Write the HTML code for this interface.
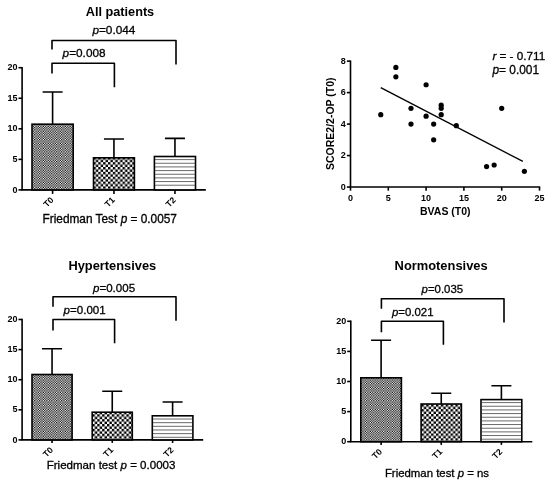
<!DOCTYPE html>
<html><head><meta charset="utf-8"><title>Figure</title>
<style>
html,body{margin:0;padding:0;background:#fff}
svg{display:block}
text{font-family:"Liberation Sans",Arial,sans-serif;fill:#000;stroke:#000;stroke-width:0.3px}
.tk,.tt,.lb{stroke-width:0}
.tk{font-size:9px;font-weight:bold}
.pt{font-size:11.8px}
.tt{font-size:12.5px;font-weight:bold}
.lb{font-size:10.5px;font-weight:bold}
</style></head><body>
<svg width="550" height="483" viewBox="0 0 550 483">
<defs>
<pattern id="pfine" width="2.44" height="2.44" patternUnits="userSpaceOnUse"><rect width="2.44" height="2.44" fill="#fff"/><rect width="1.22" height="1.22" fill="#000"/><rect x="1.22" y="1.22" width="1.22" height="1.22" fill="#000"/></pattern>
<pattern id="pchk1" x="93.4" y="157.3" width="4.86" height="4.86" patternUnits="userSpaceOnUse"><rect width="4.86" height="4.86" fill="#fff"/><rect width="2.43" height="2.43" fill="#000"/><rect x="2.43" y="2.43" width="2.43" height="2.43" fill="#000"/></pattern>
<pattern id="pchk3" x="92.4" y="414.3" width="4.86" height="4.86" patternUnits="userSpaceOnUse"><rect width="4.86" height="4.86" fill="#fff"/><rect width="2.43" height="2.43" fill="#000"/><rect x="2.43" y="2.43" width="2.43" height="2.43" fill="#000"/></pattern>
<pattern id="pchk4" x="421.4" y="404.3" width="4.86" height="4.86" patternUnits="userSpaceOnUse"><rect width="4.86" height="4.86" fill="#fff"/><rect width="2.43" height="2.43" fill="#000"/><rect x="2.43" y="2.43" width="2.43" height="2.43" fill="#000"/></pattern>
</defs>
<rect width="550" height="483" fill="#fff"/>
<path d="M22.1 67.00V189.90H205.8" fill="none" stroke="#000" stroke-width="1.6"/>
<path d="M18.50 189.90H22.1" stroke="#000" stroke-width="1.6"/>
<text x="17.50" y="192.50" text-anchor="end" class="tk">0</text>
<path d="M18.50 159.35H22.1" stroke="#000" stroke-width="1.6"/>
<text x="17.50" y="161.95" text-anchor="end" class="tk">5</text>
<path d="M18.50 128.80H22.1" stroke="#000" stroke-width="1.6"/>
<text x="17.50" y="131.40" text-anchor="end" class="tk">10</text>
<path d="M18.50 98.25H22.1" stroke="#000" stroke-width="1.6"/>
<text x="17.50" y="100.85" text-anchor="end" class="tk">15</text>
<path d="M18.50 67.70H22.1" stroke="#000" stroke-width="1.6"/>
<text x="17.50" y="70.30" text-anchor="end" class="tk">20</text>
<path d="M52.60 124.20V92.00M42.60 92.00H62.60" stroke="#000" stroke-width="1.6" fill="none"/>
<rect x="32.00" y="124.20" width="41.20" height="65.70" fill="url(#pfine)" stroke="#000" stroke-width="1.6"/>
<path d="M52.60 189.90V193.90" stroke="#000" stroke-width="1.6"/>
<text transform="translate(50.30 196.70) rotate(-45)" text-anchor="end" class="tk" style="font-size:8.7px" dy="5.5">T0</text>
<path d="M113.95 157.80V139.00M103.95 139.00H123.95" stroke="#000" stroke-width="1.6" fill="none"/>
<rect x="93.50" y="157.80" width="40.90" height="32.10" fill="url(#pchk1)" stroke="#000" stroke-width="1.6"/>
<path d="M113.95 189.90V193.90" stroke="#000" stroke-width="1.6"/>
<text transform="translate(111.65 196.70) rotate(-45)" text-anchor="end" class="tk" style="font-size:8.7px" dy="5.5">T1</text>
<path d="M174.95 156.50V138.40M164.95 138.40H184.95" stroke="#000" stroke-width="1.6" fill="none"/>
<rect x="154.40" y="156.50" width="41.10" height="33.40" fill="#fff" stroke="#000" stroke-width="1.6"/>
<path d="M155.00 159.60H194.90M155.00 163.26H194.90M155.00 166.92H194.90M155.00 170.58H194.90M155.00 174.24H194.90M155.00 177.90H194.90M155.00 181.56H194.90M155.00 185.22H194.90" stroke="#3a3a3a" stroke-width="0.75" fill="none"/>
<path d="M174.95 189.90V193.90" stroke="#000" stroke-width="1.6"/>
<text transform="translate(172.65 196.70) rotate(-45)" text-anchor="end" class="tk" style="font-size:8.7px" dy="5.5">T2</text>
<path d="M52 48.6V40.5H176V63.6" fill="none" stroke="#000" stroke-width="1.6" stroke-linecap="square" stroke-linejoin="round"/>
<path d="M52 72.6V63.3H114.4V86.4" fill="none" stroke="#000" stroke-width="1.6" stroke-linecap="square" stroke-linejoin="round"/>
<text x="92.4" y="34" class="pt" style="font-size:11.8px"><tspan font-style="italic">p</tspan>=0.044</text>
<text x="62.6" y="56.6" class="pt" style="font-size:11.8px"><tspan font-style="italic">p</tspan>=0.008</text>
<text x="85.8" y="15.6" class="tt" style="font-size:12.7px">All patients</text>
<text x="42.5" y="222.7" font-size="11.85">Friedman Test <tspan font-style="italic">p</tspan> = 0.0057</text>
<path d="M22.1 318.80V439.90H203.2" fill="none" stroke="#000" stroke-width="1.6"/>
<path d="M18.50 439.90H22.1" stroke="#000" stroke-width="1.6"/>
<text x="17.50" y="442.50" text-anchor="end" class="tk">0</text>
<path d="M18.50 409.80H22.1" stroke="#000" stroke-width="1.6"/>
<text x="17.50" y="412.40" text-anchor="end" class="tk">5</text>
<path d="M18.50 379.70H22.1" stroke="#000" stroke-width="1.6"/>
<text x="17.50" y="382.30" text-anchor="end" class="tk">10</text>
<path d="M18.50 349.60H22.1" stroke="#000" stroke-width="1.6"/>
<text x="17.50" y="352.20" text-anchor="end" class="tk">15</text>
<path d="M18.50 319.50H22.1" stroke="#000" stroke-width="1.6"/>
<text x="17.50" y="322.10" text-anchor="end" class="tk">20</text>
<path d="M52.05 374.50V348.80M42.05 348.80H62.05" stroke="#000" stroke-width="1.6" fill="none"/>
<rect x="32.00" y="374.50" width="40.10" height="65.40" fill="url(#pfine)" stroke="#000" stroke-width="1.6"/>
<path d="M52.05 439.90V442.90" stroke="#000" stroke-width="1.6"/>
<text transform="translate(49.75 446.70) rotate(-45)" text-anchor="end" class="tk" style="font-size:8.7px" dy="5.5">T0</text>
<path d="M112.25 412.20V391.20M102.25 391.20H122.25" stroke="#000" stroke-width="1.6" fill="none"/>
<rect x="92.20" y="412.20" width="40.10" height="27.70" fill="url(#pchk3)" stroke="#000" stroke-width="1.6"/>
<path d="M112.25 439.90V442.90" stroke="#000" stroke-width="1.6"/>
<text transform="translate(109.95 446.70) rotate(-45)" text-anchor="end" class="tk" style="font-size:8.7px" dy="5.5">T1</text>
<path d="M172.60 415.80V402.00M162.60 402.00H182.60" stroke="#000" stroke-width="1.6" fill="none"/>
<rect x="152.30" y="415.80" width="40.60" height="24.10" fill="#fff" stroke="#000" stroke-width="1.6"/>
<path d="M152.90 419.00H192.30M152.90 422.66H192.30M152.90 426.32H192.30M152.90 429.98H192.30M152.90 433.64H192.30M152.90 437.30H192.30" stroke="#3a3a3a" stroke-width="0.75" fill="none"/>
<path d="M172.60 439.90V442.90" stroke="#000" stroke-width="1.6"/>
<text transform="translate(170.30 446.70) rotate(-45)" text-anchor="end" class="tk" style="font-size:8.7px" dy="5.5">T2</text>
<path d="M53 306V296.8H176V320" fill="none" stroke="#000" stroke-width="1.6" stroke-linecap="square" stroke-linejoin="round"/>
<path d="M53 329.6V319.5H114.6V342.4" fill="none" stroke="#000" stroke-width="1.6" stroke-linecap="square" stroke-linejoin="round"/>
<text x="93" y="291.6" class="pt" style="font-size:11.55px"><tspan font-style="italic">p</tspan>=0.005</text>
<text x="63.6" y="313.6" class="pt" style="font-size:11.55px"><tspan font-style="italic">p</tspan>=0.001</text>
<text x="68.4" y="270" class="tt" style="font-size:12.85px">Hypertensives</text>
<text x="46.7" y="468.7" font-size="11.55">Friedman test <tspan font-style="italic">p</tspan> = 0.0003</text>
<path d="M350.8 320.60V441.70H532.3" fill="none" stroke="#000" stroke-width="1.6"/>
<path d="M347.20 441.70H350.8" stroke="#000" stroke-width="1.6"/>
<text x="346.20" y="444.30" text-anchor="end" class="tk">0</text>
<path d="M347.20 411.60H350.8" stroke="#000" stroke-width="1.6"/>
<text x="346.20" y="414.20" text-anchor="end" class="tk">5</text>
<path d="M347.20 381.50H350.8" stroke="#000" stroke-width="1.6"/>
<text x="346.20" y="384.10" text-anchor="end" class="tk">10</text>
<path d="M347.20 351.40H350.8" stroke="#000" stroke-width="1.6"/>
<text x="346.20" y="354.00" text-anchor="end" class="tk">15</text>
<path d="M347.20 321.30H350.8" stroke="#000" stroke-width="1.6"/>
<text x="346.20" y="323.90" text-anchor="end" class="tk">20</text>
<path d="M381.10 377.80V340.20M371.10 340.20H391.10" stroke="#000" stroke-width="1.6" fill="none"/>
<rect x="360.80" y="377.80" width="40.60" height="63.90" fill="url(#pfine)" stroke="#000" stroke-width="1.6"/>
<path d="M381.10 441.70V444.90" stroke="#000" stroke-width="1.6"/>
<text transform="translate(378.80 448.50) rotate(-45)" text-anchor="end" class="tk" style="font-size:8.7px" dy="5.5">T0</text>
<path d="M441.25 404.00V393.20M431.25 393.20H451.25" stroke="#000" stroke-width="1.6" fill="none"/>
<rect x="421.10" y="404.00" width="40.30" height="37.70" fill="url(#pchk4)" stroke="#000" stroke-width="1.6"/>
<path d="M441.25 441.70V444.90" stroke="#000" stroke-width="1.6"/>
<text transform="translate(438.95 448.50) rotate(-45)" text-anchor="end" class="tk" style="font-size:8.7px" dy="5.5">T1</text>
<path d="M501.40 399.60V385.70M491.40 385.70H511.40" stroke="#000" stroke-width="1.6" fill="none"/>
<rect x="481.00" y="399.60" width="40.80" height="42.10" fill="#fff" stroke="#000" stroke-width="1.6"/>
<path d="M481.60 402.60H521.20M481.60 406.26H521.20M481.60 409.92H521.20M481.60 413.58H521.20M481.60 417.24H521.20M481.60 420.90H521.20M481.60 424.56H521.20M481.60 428.22H521.20M481.60 431.88H521.20M481.60 435.54H521.20M481.60 439.20H521.20" stroke="#3a3a3a" stroke-width="0.75" fill="none"/>
<path d="M501.40 441.70V444.90" stroke="#000" stroke-width="1.6"/>
<text transform="translate(499.10 448.50) rotate(-45)" text-anchor="end" class="tk" style="font-size:8.7px" dy="5.5">T2</text>
<path d="M381.4 308V298.8H504V321.6" fill="none" stroke="#000" stroke-width="1.6" stroke-linecap="square" stroke-linejoin="round"/>
<path d="M381.4 331.4V321.2H443.4V344" fill="none" stroke="#000" stroke-width="1.6" stroke-linecap="square" stroke-linejoin="round"/>
<text x="421.6" y="293.3" class="pt" style="font-size:11.4px"><tspan font-style="italic">p</tspan>=0.035</text>
<text x="392" y="315.6" class="pt" style="font-size:11.4px"><tspan font-style="italic">p</tspan>=0.021</text>
<text x="394.6" y="270" class="tt" style="font-size:12.88px">Normotensives</text>
<text x="384.9" y="477.2" font-size="11.4">Friedman test <tspan font-style="italic">p</tspan> = ns</text>
<path d="M350.5 60.43V187.05H540.20" fill="none" stroke="#000" stroke-width="1.6"/>
<path d="M346.9 187.05H350.5" stroke="#000" stroke-width="1.6"/>
<text x="345.70" y="189.65" text-anchor="end" class="tk">0</text>
<path d="M346.9 155.57H350.5" stroke="#000" stroke-width="1.6"/>
<text x="345.70" y="158.17" text-anchor="end" class="tk">2</text>
<path d="M346.9 124.09H350.5" stroke="#000" stroke-width="1.6"/>
<text x="345.70" y="126.69" text-anchor="end" class="tk">4</text>
<path d="M346.9 92.61H350.5" stroke="#000" stroke-width="1.6"/>
<text x="345.70" y="95.21" text-anchor="end" class="tk">6</text>
<path d="M346.9 61.13H350.5" stroke="#000" stroke-width="1.6"/>
<text x="345.70" y="63.73" text-anchor="end" class="tk">8</text>
<path d="M350.50 187.05V190.65" stroke="#000" stroke-width="1.6"/>
<text x="350.50" y="200.75" text-anchor="middle" class="tk">0</text>
<path d="M388.30 187.05V190.65" stroke="#000" stroke-width="1.6"/>
<text x="388.30" y="200.75" text-anchor="middle" class="tk">5</text>
<path d="M426.10 187.05V190.65" stroke="#000" stroke-width="1.6"/>
<text x="426.10" y="200.75" text-anchor="middle" class="tk">10</text>
<path d="M463.90 187.05V190.65" stroke="#000" stroke-width="1.6"/>
<text x="463.90" y="200.75" text-anchor="middle" class="tk">15</text>
<path d="M501.70 187.05V190.65" stroke="#000" stroke-width="1.6"/>
<text x="501.70" y="200.75" text-anchor="middle" class="tk">20</text>
<path d="M539.50 187.05V190.65" stroke="#000" stroke-width="1.6"/>
<text x="539.50" y="200.75" text-anchor="middle" class="tk">25</text>
<circle cx="395.86" cy="67.43" r="2.6"/>
<circle cx="395.86" cy="76.87" r="2.6"/>
<circle cx="380.74" cy="114.65" r="2.6"/>
<circle cx="410.98" cy="108.35" r="2.6"/>
<circle cx="410.98" cy="124.09" r="2.6"/>
<circle cx="426.10" cy="84.74" r="2.6"/>
<circle cx="426.10" cy="116.22" r="2.6"/>
<circle cx="433.66" cy="124.09" r="2.6"/>
<circle cx="433.66" cy="139.83" r="2.6"/>
<circle cx="441.22" cy="105.20" r="2.6"/>
<circle cx="441.22" cy="108.35" r="2.6"/>
<circle cx="441.22" cy="114.65" r="2.6"/>
<circle cx="456.34" cy="125.66" r="2.6"/>
<circle cx="501.70" cy="108.35" r="2.6"/>
<circle cx="486.58" cy="166.59" r="2.6"/>
<circle cx="494.14" cy="165.01" r="2.6"/>
<circle cx="524.38" cy="171.31" r="2.6"/>
<path d="M380.74 87.73L522.87 161.39" stroke="#000" stroke-width="1.4"/>
<text x="420" y="215" class="lb">BVAS (T0)</text>
<text transform="translate(334.4 170) rotate(-90)" class="lb">SCORE2/2-OP (T0)</text>
<text x="492.4" y="60" class="pt" style="font-size:11.7px"><tspan font-style="italic">r</tspan> = - 0.711</text>
<text x="492.4" y="74" class="pt" style="font-size:11.9px"><tspan font-style="italic">p</tspan>= 0.001</text>
</svg>
</body></html>
